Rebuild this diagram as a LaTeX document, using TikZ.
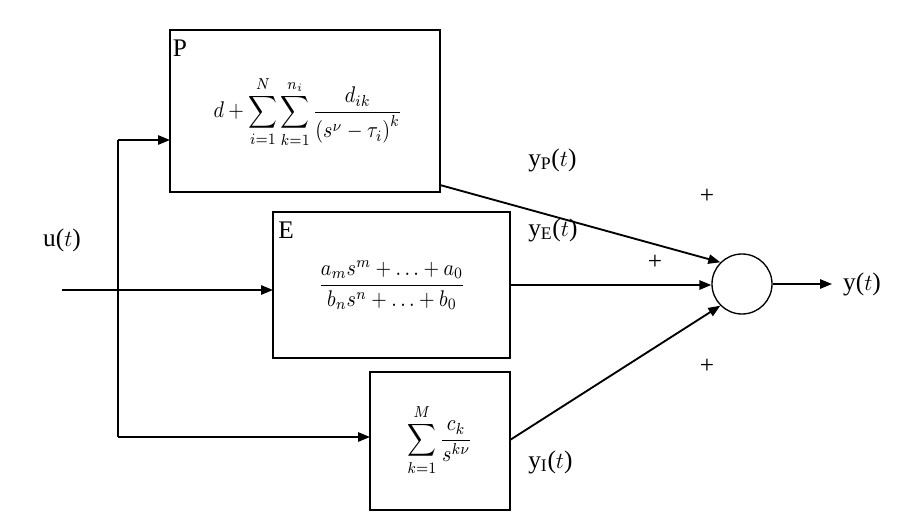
\documentclass[tikz,border=0pt]{standalone}
\usepackage{fontspec}
\usepackage{graphicx}
\setmainfont{Liberation Serif}
\usetikzlibrary{arrows.meta}
\begin{document}
\begin{tikzpicture}[x=0.75pt,y=-0.75pt,
  box/.style={draw,line width=1pt},
  ln/.style={line width=1.4pt},
  arr/.style={ln,-{Triangle[length=9pt,width=7pt]}},
  lab/.style={font=\fontsize{19}{22}\selectfont},
  ylab/.style={lab,anchor=west,inner sep=0}]
\useasboundingbox (0,0) rectangle (907,517);
\draw[box] (170,30) rectangle (440,192);
\draw[box] (273,212) rectangle (510,358);
\draw[box] (370,372) rectangle (510,510);
\node[lab] at (180,48) {P};
\node[lab] at (286,230) {E};
\node (pf) at (308,112) {\scalebox{1.5}[1.7]{$\displaystyle d+\sum_{i=1}^{N}\sum_{k=1}^{n_i}\frac{d_{ik}}{\left(s^{\nu}-\tau_i\right)^k}$}};
\node (ef) at (392,285) {\scalebox{1.5}[1.7]{$\displaystyle\frac{a_m s^m+\ldots+a_0}{b_n s^n+\ldots+b_0}$}};
\node (if) at (440,440) {\scalebox{1.5}[1.7]{$\displaystyle\sum_{k=1}^{M}\frac{c_k}{s^{k\nu}}$}};
\node[draw,line width=1pt,circle,minimum size=45pt,inner sep=0] (s) at (742,284) {};
\coordinate (in) at (62,290);
\coordinate (bt) at (118,140);
\coordinate (bb) at (118,437);
\coordinate (out) at (832,284);
\draw[arr] (in) -- (273,290);
\draw[ln] (bt) -- (bb);
\draw[arr] (bt) -- (170,140);
\draw[arr] (bb) -- (370,437);
\draw[arr] (440,185) -- (s.135);
\draw[arr] (510,285) -- (s.west|-510,285);
\draw[arr] (510,440) -- (s.-135);
\draw[arr] (s.east) -- (out);
\node[lab] at (62,240) {u($t$)};
\node[ylab] at (528,160) {y\textsubscript{P}($t$)};
\node[ylab] at (528,230) {y\textsubscript{E}($t$)};
\node[ylab] at (528,462) {y\textsubscript{I}($t$)};
\node[lab] at (862,284) {y($t$)};
\node[lab] at (707,196) {+};
\node[lab] at (655,262) {+};
\node[lab] at (707,366) {+};
\end{tikzpicture}
\end{document}
